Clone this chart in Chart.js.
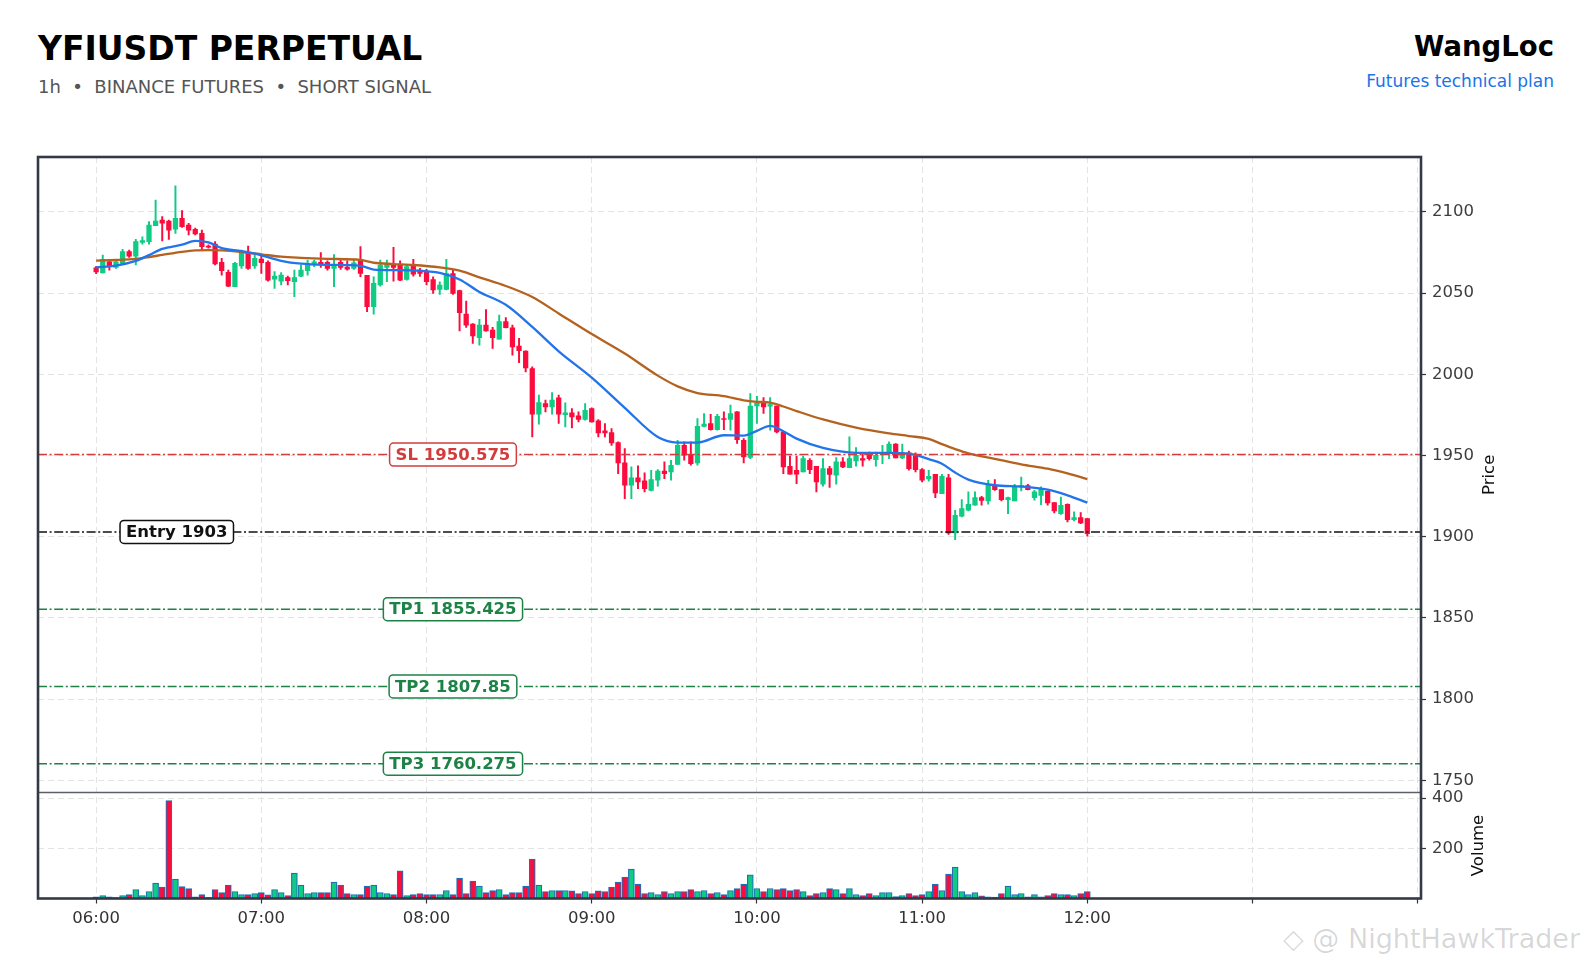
<!DOCTYPE html>
<html>
<head>
<meta charset="utf-8">
<title>YFIUSDT PERPETUAL</title>
<script src="https://cdn.jsdelivr.net/npm/chart.js@4.4.0/dist/chart.umd.min.js"></script>
<style>
  html, body { margin: 0; padding: 0; background: #fff; }
  body { width: 1590px; height: 962px; position: relative; overflow: hidden; font-family: "DejaVu Sans", sans-serif; }
  .txt { position: absolute; line-height: 1; white-space: pre; }
  #title { left: 38px; top: 32px; font-size: 33px; font-weight: bold; color: #000; }
  #subtitle { left: 38px; top: 77.5px; font-size: 18px; color: #555; }
  #brand { right: 36px; top: 33px; font-size: 27.5px; font-weight: bold; color: #000; }
  #tagline { right: 36px; top: 72.5px; font-size: 17px; color: #1a73e8; }
  #mark { left: 1283px; top: 925px; font-size: 27px; color: rgba(0,0,0,0.16); }
  #chart { position: absolute; left: 0; top: 0; }
</style>
</head>
<body>
<div class="txt" id="title">YFIUSDT PERPETUAL</div>
<div class="txt" id="subtitle">1h  •  BINANCE FUTURES  •  SHORT SIGNAL</div>
<div class="txt" id="brand">WangLoc</div>
<div class="txt" id="tagline">Futures technical plan</div>
<div class="txt" id="mark">◇ @ NightHawkTrader</div>
<canvas id="chart" width="1590" height="962"></canvas>

<script>
// candles, one per 2.4 min, index 0 = 06:00
const opens = [
  2065.5, 2062.5, 2069.3, 2065.8, 2068.3, 2075.5, 2072.8, 2081.2, 2081.7, 2091.5,
  2095.0, 2094.4, 2089.3, 2096.0, 2091.9, 2089.3, 2086.8, 2078.9, 2080.2, 2068.9,
  2062.8, 2053.9, 2066.7, 2074.9, 2066.7, 2071.0, 2068.9, 2058.6, 2057.4, 2059.5,
  2057.0, 2060.5, 2063.8, 2068.3, 2068.9, 2068.9, 2065.2, 2068.9, 2066.0, 2065.2,
  2070.8, 2060.9, 2041.6, 2055.0, 2065.8, 2067.7, 2067.3, 2058.4, 2066.9, 2064.2,
  2063.2, 2058.4, 2052.3, 2052.3, 2062.1, 2051.5, 2037.1, 2030.9, 2022.5, 2030.3,
  2027.2, 2021.7, 2032.4, 2028.7, 2017.4, 2014.3, 2003.6, 1975.4, 1982.0, 1980.0,
  1985.5, 1975.2, 1976.3, 1974.4, 1972.2, 1978.9, 1971.3, 1965.2, 1964.1, 1958.0,
  1945.5, 1931.7, 1936.2, 1934.4, 1928.6, 1934.8, 1940.5, 1939.9, 1944.6, 1956.3,
  1950.6, 1945.5, 1968.0, 1969.7, 1966.0, 1972.8, 1972.2, 1976.9, 1959.4, 1948.8,
  1980.6, 1983.0, 1980.4, 1980.4, 1964.6, 1943.4, 1940.9, 1939.9, 1947.1, 1943.4,
  1932.3, 1942.0, 1937.9, 1946.1, 1942.6, 1946.7, 1948.1, 1950.2, 1947.5, 1950.6,
  1951.2, 1957.0, 1948.5, 1951.6, 1949.6, 1941.3, 1935.6, 1938.5, 1926.6, 1936.2,
  1902.3, 1912.6, 1916.3, 1919.4, 1924.1, 1922.0, 1931.1, 1929.0, 1922.9, 1922.0,
  1930.7, 1931.5, 1924.1, 1925.5, 1928.0, 1921.0, 1914.2, 1920.0, 1910.5, 1911.8,
  1911.2
]
const highs = [
  2066.5, 2073.4, 2070.4, 2070.4, 2076.9, 2076.5, 2083.1, 2084.7, 2094.0, 2107.3,
  2097.1, 2095.0, 2116.0, 2100.8, 2093.0, 2090.0, 2088.8, 2079.8, 2081.7, 2071.4,
  2064.2, 2068.9, 2076.5, 2079.0, 2073.4, 2072.8, 2069.8, 2063.2, 2062.6, 2060.5,
  2064.2, 2067.3, 2070.4, 2070.4, 2074.9, 2069.9, 2073.8, 2070.8, 2069.9, 2070.8,
  2078.6, 2060.9, 2060.1, 2070.4, 2070.4, 2078.2, 2069.9, 2067.3, 2070.8, 2065.2,
  2064.6, 2060.1, 2057.0, 2070.8, 2064.2, 2051.9, 2045.1, 2031.3, 2033.8, 2039.9,
  2028.9, 2036.5, 2035.0, 2030.3, 2022.1, 2014.5, 2004.6, 1987.2, 1984.1, 1988.8,
  1987.2, 1982.4, 1978.9, 1976.9, 1982.0, 1979.3, 1972.2, 1969.7, 1966.6, 1958.4,
  1954.3, 1943.0, 1943.6, 1939.3, 1940.9, 1941.3, 1946.1, 1947.1, 1959.4, 1958.4,
  1958.4, 1972.8, 1975.9, 1975.4, 1975.4, 1976.9, 1981.0, 1977.1, 1960.4, 1988.2,
  1986.5, 1985.7, 1985.7, 1980.4, 1964.6, 1949.6, 1949.6, 1949.6, 1948.1, 1943.4,
  1948.1, 1943.4, 1948.7, 1948.7, 1961.5, 1954.9, 1951.2, 1952.2, 1952.2, 1956.3,
  1958.4, 1957.4, 1957.0, 1952.8, 1951.6, 1941.9, 1940.9, 1938.5, 1938.5, 1938.5,
  1916.3, 1922.9, 1927.6, 1927.6, 1924.9, 1934.8, 1935.2, 1929.0, 1924.5, 1932.3,
  1936.8, 1932.3, 1928.6, 1930.7, 1928.2, 1921.1, 1924.5, 1920.2, 1915.3, 1914.9,
  1911.4
]
const lows = [
  2062.0, 2062.5, 2064.2, 2065.2, 2067.7, 2072.0, 2067.3, 2080.2, 2080.2, 2091.5,
  2082.1, 2083.1, 2086.8, 2090.5, 2085.8, 2085.8, 2076.5, 2077.6, 2067.3, 2061.1,
  2053.9, 2053.9, 2065.2, 2064.6, 2065.2, 2062.1, 2057.4, 2052.9, 2055.0, 2055.0,
  2047.8, 2060.1, 2061.1, 2066.3, 2065.8, 2064.2, 2053.9, 2064.6, 2064.2, 2064.6,
  2060.1, 2038.5, 2037.1, 2054.3, 2057.0, 2057.4, 2057.6, 2058.0, 2060.5, 2060.3,
  2055.0, 2049.8, 2049.2, 2051.9, 2049.2, 2026.8, 2028.9, 2019.0, 2018.0, 2026.6,
  2015.9, 2021.7, 2028.5, 2011.8, 2007.1, 2001.5, 1961.5, 1969.3, 1976.9, 1975.4,
  1969.7, 1967.6, 1967.0, 1970.7, 1971.7, 1970.5, 1961.5, 1961.5, 1956.3, 1938.9,
  1923.5, 1923.5, 1929.6, 1927.6, 1928.2, 1931.1, 1935.8, 1934.8, 1944.6, 1947.1,
  1944.0, 1944.0, 1967.6, 1965.6, 1965.6, 1966.0, 1965.6, 1957.4, 1945.5, 1948.1,
  1969.7, 1975.9, 1965.6, 1964.0, 1938.9, 1938.5, 1932.7, 1939.9, 1938.9, 1927.6,
  1931.1, 1930.3, 1932.3, 1942.6, 1942.6, 1943.4, 1943.4, 1947.1, 1943.4, 1945.0,
  1948.1, 1948.5, 1948.1, 1941.0, 1939.9, 1933.7, 1934.2, 1924.1, 1926.6, 1901.5,
  1898.2, 1912.2, 1915.9, 1919.4, 1919.4, 1920.0, 1928.6, 1922.0, 1914.2, 1922.0,
  1928.2, 1928.8, 1922.5, 1919.8, 1919.4, 1914.6, 1913.8, 1909.1, 1909.7, 1908.1,
  1900.3
]
const closes = [
  2063.0, 2070.8, 2066.3, 2069.3, 2075.5, 2072.8, 2081.7, 2082.3, 2091.9, 2094.4,
  2093.0, 2088.8, 2096.0, 2090.9, 2088.8, 2086.4, 2078.6, 2078.3, 2067.9, 2063.8,
  2054.3, 2068.3, 2074.9, 2065.2, 2071.4, 2068.7, 2058.0, 2060.5, 2061.1, 2057.6,
  2059.5, 2064.2, 2067.9, 2069.3, 2067.7, 2065.2, 2067.7, 2065.8, 2064.8, 2068.7,
  2062.1, 2041.6, 2056.0, 2067.3, 2067.7, 2065.8, 2058.0, 2066.3, 2061.7, 2062.1,
  2057.0, 2051.9, 2055.0, 2062.1, 2049.8, 2037.9, 2030.3, 2023.7, 2030.3, 2026.8,
  2022.5, 2032.4, 2028.7, 2016.9, 2014.5, 2004.0, 1975.4, 1982.6, 1980.0, 1984.1,
  1975.4, 1976.3, 1973.8, 1972.2, 1977.9, 1970.7, 1963.9, 1963.9, 1957.8, 1945.5,
  1931.7, 1936.2, 1933.8, 1929.6, 1935.2, 1940.5, 1938.9, 1944.0, 1956.3, 1950.2,
  1945.0, 1968.0, 1969.3, 1966.0, 1974.2, 1972.2, 1975.9, 1959.8, 1949.2, 1980.4,
  1982.4, 1980.0, 1981.4, 1964.6, 1943.0, 1938.5, 1938.5, 1948.1, 1941.3, 1933.7,
  1942.0, 1938.3, 1946.1, 1943.0, 1948.1, 1950.2, 1947.1, 1948.1, 1950.2, 1951.6,
  1957.0, 1948.5, 1951.6, 1941.9, 1941.3, 1934.8, 1937.2, 1927.0, 1937.2, 1902.3,
  1913.2, 1917.3, 1920.0, 1924.1, 1922.4, 1931.7, 1929.0, 1922.9, 1924.1, 1931.1,
  1931.7, 1929.0, 1927.6, 1929.6, 1920.8, 1915.9, 1919.4, 1910.5, 1911.8, 1908.5,
  1901.9
]
const volumes = [
  7, 12, 7, 4, 12, 16, 36, 12, 28, 61,
  45, 390, 77, 47, 40, 7, 16, 4, 36, 24,
  53, 28, 16, 16, 20, 24, 15, 36, 24, 12,
  101, 53, 20, 24, 24, 24, 65, 53, 20, 16,
  16, 49, 53, 24, 20, 16, 110, 12, 16, 20,
  16, 16, 16, 32, 16, 81, 20, 69, 49, 24,
  32, 36, 16, 24, 24, 49, 157, 53, 28, 32,
  32, 32, 31, 20, 28, 20, 31, 28, 45, 65,
  85, 117, 57, 20, 24, 16, 28, 20, 28, 28,
  36, 28, 32, 20, 24, 16, 32, 40, 57, 94,
  40, 28, 40, 36, 40, 32, 36, 28, 12, 20,
  24, 40, 36, 20, 40, 16, 12, 20, 12, 24,
  24, 8, 12, 20, 12, 16, 28, 57, 32, 97,
  125, 28, 16, 24, 11, 7, 6, 20, 49, 16,
  20, 7, 16, 7, 12, 20, 16, 16, 12, 20,
  28
]

// moving averages at these candle indexes
const maIdx = [0, 3, 6, 8, 10, 13, 15, 17, 19, 22, 25, 28, 31, 35, 40, 42, 45, 48, 52, 55, 58, 62, 66, 70,
  75, 80, 85, 88, 91, 95, 98, 100, 102, 104, 106, 110, 115, 120, 123, 126, 128, 130, 132, 136, 140, 144, 147, 150]
const maFast = [2065.8, 2066.9, 2069.8, 2073.4, 2077.2, 2079.8, 2082.1, 2081.2, 2077.7, 2075.8, 2073.3, 2069.9,
  2068.1, 2067.4, 2066.8, 2064.5, 2064.2, 2064.0, 2062.5, 2058.4, 2050.7, 2042.8, 2029.2, 2014.2,
  1998.0, 1979.4, 1961.4, 1958.0, 1958.0, 1962.5, 1962.3, 1965.2, 1968.3, 1965.0, 1960.4, 1954.7,
  1951.7, 1951.6, 1951.2, 1947.8, 1945.0, 1939.5, 1935.2, 1931.7, 1930.9, 1929.0, 1925.5, 1921.0]
const maSlow = [2070.0, 2070.4, 2071.1, 2072.2, 2073.5, 2075.4, 2076.3, 2076.5, 2076.3, 2075.3, 2073.9, 2072.4,
  2071.7, 2071.1, 2070.4, 2068.7, 2067.9, 2067.3, 2065.8, 2063.8, 2059.7, 2054.4, 2047.6, 2037.5,
  2024.8, 2012.8, 1999.2, 1992.6, 1988.5, 1986.6, 1984.0, 1983.1, 1982.6, 1980.2, 1977.4, 1972.2,
  1967.2, 1963.6, 1962.0, 1960.2, 1957.0, 1954.0, 1951.4, 1948.0, 1944.6, 1941.9, 1939.0, 1935.5]

// trade plan levels
const levelNames = ["SL", "Entry", "TP1", "TP2", "TP3"]
const levelValues = [1950.575, 1903, 1855.425, 1807.85, 1760.275]

// axes
const hourLabels = ["06:00", "07:00", "08:00", "09:00", "10:00", "11:00", "12:00"]
const barsPerHour = 25
const priceTicks = [1750, 1800, 1850, 1900, 1950, 2000, 2050, 2100]
const volumeTicks = [200, 400]

const UP = "#0fcb84"
const DOWN = "#fb0c3d"
const FONT = "DejaVu Sans"

const levelStyle = {
  SL: { color: "#d23c3c", anchor: 54 },
  Entry: { color: "#111111", anchor: 12.2 },
  TP1: { color: "#1c8246", anchor: 54 },
  TP2: { color: "#1c8246", anchor: 54 },
  TP3: { color: "#1c8246", anchor: 54 },
}

const idx = closes.map((c, i) => i)
const colors = idx.map((i) => (closes[i] >= opens[i] ? UP : DOWN))

// trade levels + their boxed labels
const levelsPlugin = {
  id: "levels",
  afterDatasetsDraw(chart) {
    const { ctx, chartArea } = chart
    const xs = chart.scales.x
    const ys = chart.scales.y
    ctx.save()
    levelNames.forEach((name, k) => {
      const st = levelStyle[name]
      const py = ys.getPixelForValue(levelValues[k])
      ctx.strokeStyle = st.color
      ctx.lineWidth = 1.5
      ctx.setLineDash([9, 2.6, 2, 2.6])
      ctx.beginPath()
      ctx.moveTo(chartArea.left, py)
      ctx.lineTo(chartArea.right, py)
      ctx.stroke()
    })
    ctx.setLineDash([])
    ctx.font = `bold 16.5px '${FONT}'`
    ctx.textAlign = "center"
    ctx.textBaseline = "middle"
    levelNames.forEach((name, k) => {
      const st = levelStyle[name]
      const text = `${name} ${levelValues[k]}`
      const px = xs.getPixelForValue(st.anchor)
      const py = ys.getPixelForValue(levelValues[k])
      const w = ctx.measureText(text).width + 12
      const h = 23
      ctx.beginPath()
      ctx.roundRect(px - w / 2, py - h / 2, w, h, 4)
      ctx.fillStyle = "#fff"
      ctx.fill()
      ctx.lineWidth = 1.5
      ctx.strokeStyle = st.color
      ctx.stroke()
      ctx.fillStyle = st.color
      ctx.fillText(text, px, py + 1)
    })
    ctx.restore()
  },
}

// outer frame, panel separator and the two axis titles
const framePlugin = {
  id: "frame",
  afterDraw(chart) {
    const { ctx, chartArea } = chart
    const ys = chart.scales.y
    const yv = chart.scales.yv
    ctx.save()
    ctx.strokeStyle = "#5a5f68"
    ctx.lineWidth = 1.5
    ctx.beginPath()
    ctx.moveTo(chartArea.left, yv.top)
    ctx.lineTo(chartArea.right, yv.top)
    ctx.stroke()
    ctx.strokeStyle = "#343a45"
    ctx.lineWidth = 2.6
    ctx.strokeRect(chartArea.left, chartArea.top, chartArea.right - chartArea.left, chartArea.bottom - chartArea.top)

    ctx.fillStyle = "#111"
    ctx.font = `16.5px '${FONT}'`
    ctx.textAlign = "center"
    ctx.textBaseline = "middle"
    const titles = [["Price", ys, 69], ["Volume", yv, 58]]
    titles.forEach(([t, sc, off]) => {
      ctx.save()
      ctx.translate(chartArea.right + off, (sc.top + sc.bottom) / 2)
      ctx.rotate(-Math.PI / 2)
      ctx.fillText(t, 0, 0)
      ctx.restore()
    })
    ctx.restore()
  },
}

const gridCommon = {
  color: "#e3e3e3",
  lineWidth: 1,
  tickColor: "#333",
  tickLength: 5,
  tickWidth: 1.2,
  offset: false,
}
const tickFont = { family: FONT, size: 16.5 }

new Chart(document.getElementById("chart"), {
  type: "bar",
  data: {
    datasets: [
      {
        type: "line",
        data: maIdx.map((x, k) => ({ x, y: maFast[k] })),
        yAxisID: "y",
        borderColor: "#2274ea",
        borderWidth: 2.3,
        pointRadius: 0,
        cubicInterpolationMode: "monotone",
        order: 1,
      },
      {
        type: "line",
        data: maIdx.map((x, k) => ({ x, y: maSlow[k] })),
        yAxisID: "y",
        borderColor: "#b5621e",
        borderWidth: 2.3,
        pointRadius: 0,
        cubicInterpolationMode: "monotone",
        order: 1,
      },
      {
        data: idx.map((i) => ({ x: i, y: [lows[i], highs[i]] })),
        yAxisID: "y",
        backgroundColor: colors,
        barThickness: 1.3,
        grouped: false,
        order: 3,
      },
      {
        data: idx.map((i) => ({ x: i, y: [opens[i], closes[i]] })),
        yAxisID: "y",
        backgroundColor: colors,
        barThickness: 4.6,
        minBarLength: 1,
        grouped: false,
        order: 2,
      },
      {
        data: idx.map((i) => ({ x: i, y: volumes[i] })),
        yAxisID: "yv",
        backgroundColor: colors,
        borderColor: "#1f6fb4",
        borderWidth: 1.2,
        barThickness: 6,
        grouped: false,
        order: 4,
      },
    ],
  },
  options: {
    responsive: false,
    animation: false,
    layout: { padding: { left: 38, top: 157, right: 49, bottom: 23.5 } },
    plugins: { legend: { display: false }, tooltip: { enabled: false } },
    scales: {
      x: {
        type: "linear",
        offset: false,
        min: -8.8,
        max: 200.5,
        afterFit: (s) => { s.height = 40 },
        afterBuildTicks: (s) => {
          s.ticks = []
          for (let v = 0; v <= s.max; v += barsPerHour) s.ticks.push({ value: v })
        },
        ticks: {
          font: tickFont,
          color: "#333",
          padding: 5,
          maxRotation: 0,
          autoSkip: false,
          callback: (v) => hourLabels[v / barsPerHour] || "",
        },
        grid: gridCommon,
        border: { display: false, dash: [6, 4] },
      },
      y: {
        type: "linear",
        position: "right",
        stack: "panels",
        stackWeight: 6,
        min: 1742.5,
        max: 2133.8,
        afterFit: (s) => { s.width = 120 },
        afterBuildTicks: (s) => { s.ticks = priceTicks.map((value) => ({ value })) },
        ticks: { font: tickFont, color: "#3d3d3d", padding: 6, callback: (v) => String(v) },
        grid: gridCommon,
        border: { display: false, dash: [6, 4] },
      },
      yv: {
        type: "linear",
        position: "right",
        stack: "panels",
        stackWeight: 1,
        min: 0,
        max: 422,
        afterFit: (s) => { s.width = 120 },
        afterBuildTicks: (s) => { s.ticks = volumeTicks.map((value) => ({ value })) },
        ticks: { font: tickFont, color: "#3d3d3d", padding: 6, callback: (v) => String(v) },
        grid: gridCommon,
        border: { display: false, dash: [6, 4] },
      },
    },
  },
  plugins: [levelsPlugin, framePlugin],
})
</script>
</body>
</html>
